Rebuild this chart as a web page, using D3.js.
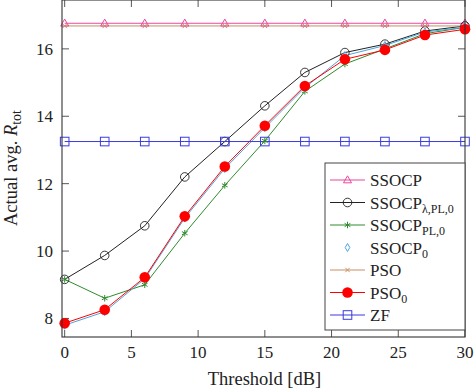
<!DOCTYPE html>
<meta charset="utf-8">
<style>
    body { margin: 0; background: #fff; }
    svg { display: block; }
    text { font-family: "Liberation Serif", "DejaVu Serif", serif; fill: #222; }
    .frame { fill: none; stroke: #333; stroke-width: 1.1px; }
    .tick { stroke: #444; stroke-width: 0.9px; }
</style>
<svg width="474" height="390"></svg>
<script src="https://cdnjs.cloudflare.com/ajax/libs/d3/7.8.5/d3.min.js"></script>
<script>
    // thresholds (dB)
    var thresholds = [0, 3, 6, 9, 12, 15, 18, 21, 24, 27, 30];
    var xTicks = [0, 5, 10, 15, 20, 25, 30];
    var yTicks = [8, 10, 12, 14, 16];

    var ssocp      = [16.76, 16.76, 16.76, 16.76, 16.76, 16.76, 16.76, 16.76, 16.76, 16.76, 16.76];
    var ssocpLamPL = [9.16, 9.87, 10.75, 12.2, 13.25, 14.31, 15.3, 15.89, 16.14, 16.53, 16.68];
    var ssocpPL    = [9.16, 8.6, 9.0, 10.53, 11.95, 13.27, 14.74, 15.55, 16.0, 16.45, 16.64];
    var ssocp0     = [7.8, 8.2, 9.18, 10.98, 12.45, 13.66, 14.85, 15.8, 16.1, 16.5, 16.64];
    var pso        = [16.68, 16.68, 16.68, 16.68, 16.68, 16.68, 16.68, 16.68, 16.68, 16.68, 16.68];
    var pso0       = [7.86, 8.26, 9.22, 11.03, 12.51, 13.72, 14.9, 15.69, 15.97, 16.41, 16.58];
    var zf         = [13.25, 13.25, 13.25, 13.25, 13.25, 13.25, 13.25, 13.25, 13.25, 13.25, 13.25];

    var series = [
        {name: "SSOCP", sub: "", values: ssocp, color: "#e8479f", marker: "triangle"},
        {name: "SSOCP", sub: "λ,PL,0", values: ssocpLamPL, color: "#222", marker: "circle"},
        {name: "SSOCP", sub: "PL,0", values: ssocpPL, color: "#2e8b2e", marker: "star"},
        {name: "SSOCP", sub: "0", values: ssocp0, color: "#4aa6e0", marker: "diamond"},
        {name: "PSO", sub: "", values: pso, color: "#c98f64", marker: "cross"},
        {name: "PSO", sub: "0", values: pso0, color: "#f00", marker: "dot"},
        {name: "ZF", sub: "", values: zf, color: "#3a3ae0", marker: "square"}
    ];

    var svg = d3.select("svg");
    var plotL = 62, plotR = 465, plotT = 0, plotB = 337;

    var x = d3.scaleLinear().domain([-0.2, 30]).range([plotL, plotR]);
    var y = d3.scaleLinear().domain([7.45, 17.45]).range([plotB, plotT]);

    var line = d3.line()
        .x(function(d, i) { return x(thresholds[i]); })
        .y(function(d) { return y(d); });

    function drawMarker(g, type, color, cx, cy) {
        if (type === "triangle") {
            g.append("path").attr("d", d3.symbol().type(d3.symbolTriangle).size(28)())
                .attr("transform", "translate(" + cx + "," + (cy + 0.5) + ")")
                .attr("fill", "none").attr("stroke", color).attr("stroke-width", 1);
        } else if (type === "circle") {
            g.append("circle").attr("cx", cx).attr("cy", cy).attr("r", 4.3)
                .attr("fill", "none").attr("stroke", color).attr("stroke-width", 0.9);
        } else if (type === "star") {
            g.append("path").attr("d", d3.symbol().type(d3.symbolAsterisk).size(30)())
                .attr("transform", "translate(" + cx + "," + cy + ")")
                .attr("fill", "none").attr("stroke", color).attr("stroke-width", 1);
        } else if (type === "diamond") {
            g.append("path").attr("d", "M0,-4L2.3,0L0,4L-2.3,0Z")
                .attr("transform", "translate(" + cx + "," + cy + ")")
                .attr("fill", "none").attr("stroke", color).attr("stroke-width", 1);
        } else if (type === "cross") {
            g.append("path").attr("d", d3.symbol().type(d3.symbolTimes).size(14)())
                .attr("transform", "translate(" + cx + "," + cy + ")")
                .attr("fill", "none").attr("stroke", color).attr("stroke-width", 1);
        } else if (type === "dot") {
            g.append("circle").attr("cx", cx).attr("cy", cy).attr("r", 5.3)
                .attr("fill", color);
        } else if (type === "square") {
            g.append("rect").attr("x", cx - 4.3).attr("y", cy - 4.3)
                .attr("width", 8.6).attr("height", 8.6)
                .attr("fill", "none").attr("stroke", color).attr("stroke-width", 1);
        }
    }

    // ticks (inward, on all sides)
    var tickG = svg.append("g");
    xTicks.forEach(function(t) {
        tickG.append("line").attr("class", "tick")
            .attr("x1", x(t)).attr("x2", x(t)).attr("y1", plotB).attr("y2", plotB - 7);
        tickG.append("line").attr("class", "tick")
            .attr("x1", x(t)).attr("x2", x(t)).attr("y1", plotT).attr("y2", plotT + 7);
        svg.append("text").attr("x", x(t)).attr("y", 358)
            .attr("text-anchor", "middle").attr("font-size", 17).text(t);
    });
    yTicks.forEach(function(t) {
        tickG.append("line").attr("class", "tick")
            .attr("x1", plotL).attr("x2", plotL + 7).attr("y1", y(t)).attr("y2", y(t));
        tickG.append("line").attr("class", "tick")
            .attr("x1", plotR).attr("x2", plotR - 7).attr("y1", y(t)).attr("y2", y(t));
        svg.append("text").attr("x", 53).attr("y", y(t) + 6)
            .attr("text-anchor", "end").attr("font-size", 17).text(t);
    });

    // series, drawn in legend order
    var plot = svg.append("g");
    series.forEach(function(s) {
        plot.append("path").datum(s.values)
            .attr("fill", "none").attr("stroke", s.color).attr("stroke-width", 1)
            .attr("d", line);
    });
    series.forEach(function(s) {
        s.values.forEach(function(v, i) {
            drawMarker(plot, s.marker, s.color, x(thresholds[i]), y(v));
        });
    });

    svg.append("rect").attr("class", "frame")
        .attr("x", plotL).attr("y", plotT).attr("width", plotR - plotL).attr("height", plotB - plotT);

    // axis titles
    svg.append("text").attr("x", (plotL + plotR) / 2 + 1).attr("y", 385)
        .attr("text-anchor", "middle").attr("font-size", 18.5).text("Threshold [dB]");

    var yl = svg.append("text").attr("transform", "translate(17,168) rotate(-90)")
        .attr("text-anchor", "middle").attr("font-size", 18.5);
    yl.append("tspan").text("Actual avg. ");
    yl.append("tspan").attr("font-style", "italic").text("R");
    yl.append("tspan").attr("font-size", 14).attr("dy", 4).text("tot");

    // legend
    var lg = svg.append("g");
    lg.append("rect").attr("x", 325).attr("y", 163).attr("width", plotR - 325).attr("height", 167)
        .attr("fill", "#fff").attr("stroke", "#444").attr("stroke-width", 1);
    series.forEach(function(s, i) {
        var ly = 180 + i * 22.5;
        if (s.marker !== "diamond") {
            lg.append("line").attr("x1", 330).attr("x2", 365).attr("y1", ly).attr("y2", ly)
                .attr("stroke", s.color).attr("stroke-width", 1);
        }
        drawMarker(lg, s.marker, s.color, 347.5, ly);
        var t = lg.append("text").attr("x", 370).attr("y", ly + 6).attr("font-size", 17);
        t.append("tspan").text(s.name);
        if (s.sub) {
            t.append("tspan").attr("font-size", 12).attr("dy", 4).text(s.sub);
        }
    });
</script>
